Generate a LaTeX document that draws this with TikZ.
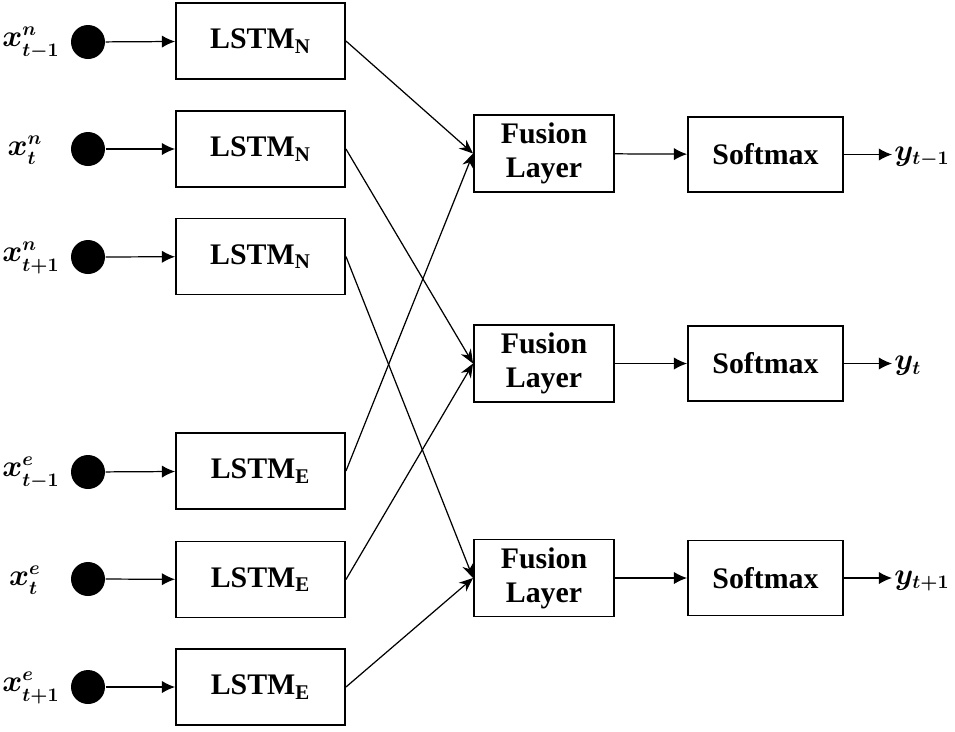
\documentclass[tikz,border=0pt]{standalone}
\usepackage{fontspec}
\setmainfont{Liberation Serif}
\usepackage{amsmath}
\usetikzlibrary{arrows.meta}

\begin{document}
\begin{tikzpicture}[
                x = 0.02cm, y = -0.02cm, % one unit per pixel of the layout
                > = {Latex[length=7.5pt,width=7pt]}, % arrow head style
                line width = 0.7pt % line style
        ]

        \tikzstyle{block}=[
            draw = black,
            line width = 1.1pt,
            fill = white,
            align = center,
            inner sep = 0pt,
            font = \bfseries\fontsize{17}{19.5}\selectfont
        ]
        \tikzstyle{lstm}=[block, minimum width = 3.38cm, minimum height = 1.52cm]
        \tikzstyle{fusion}=[block, minimum width = 2.8cm, minimum height = 1.54cm]
        \tikzstyle{soft}=[block, minimum width = 3.1cm, minimum height = 1.5cm]
        \tikzstyle{inputdot}=[circle, fill = black, minimum size = 0.68cm, inner sep = 0pt]
        \tikzstyle{varlabel}=[inner sep = 1pt, font = \boldmath\fontsize{16}{16}\selectfont]

        \useasboundingbox (0,0) rectangle (955,731);

        % input variables
        \node[varlabel] (LXN1) at (31,43) {$x^{n}_{t-1}$};
        \node[varlabel] (LXN2) at (25,150) {$x^{n}_{t}$};
        \node[varlabel] (LXN3) at (31,258) {$x^{n}_{t+1}$};
        \node[varlabel] (LXE1) at (31,473) {$x^{e}_{t-1}$};
        \node[varlabel] (LXE2) at (25,580) {$x^{e}_{t}$};
        \node[varlabel] (LXE3) at (31,688) {$x^{e}_{t+1}$};

        \node[inputdot] (XN1) at (88,42) {};
        \node[inputdot] (XN2) at (88,149) {};
        \node[inputdot] (XN3) at (88,257) {};
        \node[inputdot] (XE1) at (88,472) {};
        \node[inputdot] (XE2) at (88,579) {};
        \node[inputdot] (XE3) at (88,687) {};

        % LSTM blocks
        \node[lstm] (LN1) at (260.5,41) {LSTM\textsubscript{N}};
        \node[lstm] (LN2) at (260.5,149) {LSTM\textsubscript{N}};
        \node[lstm] (LN3) at (260.5,256.5) {LSTM\textsubscript{N}};
        \node[lstm] (LE1) at (260.5,471) {LSTM\textsubscript{E}};
        \node[lstm] (LE2) at (260.5,579.5) {LSTM\textsubscript{E}};
        \node[lstm] (LE3) at (260.5,687) {LSTM\textsubscript{E}};

        % fusion and softmax
        \node[fusion] (F1) at (544,153.5) {Fusion\\Layer};
        \node[fusion] (F2) at (544,363.5) {Fusion\\Layer};
        \node[fusion] (F3) at (544,578) {Fusion\\Layer};

        \node[soft] (S1) at (765.5,154.5) {Softmax};
        \node[soft] (S2) at (765.5,363.5) {Softmax};
        \node[soft] (S3) at (765.5,578) {Softmax};

        \node[varlabel, anchor = west] (Y1) at (892,157) {$y_{t-1}$};
        \node[varlabel, anchor = west] (Y2) at (892,366) {$y_{t}$};
        \node[varlabel, anchor = west] (Y3) at (892,581) {$y_{t+1}$};

        \draw[->] (XN1) -- (LN1);
        \draw[->] (XN2) -- (LN2);
        \draw[->] (XN3) -- (LN3);
        \draw[->] (XE1) -- (LE1);
        \draw[->] (XE2) -- (LE2);
        \draw[->] (XE3) -- (LE3);

        \draw[-{Stealth[length=8pt,width=6.5pt]}] (LN1.east) -- (F1.west);
        \draw[-{Stealth[length=8pt,width=6.5pt]}] (LN2.east) -- (F2.west);
        \draw[-{Stealth[length=8pt,width=6.5pt]}] (LN3.east) -- (F3.west);
        \draw[-{Stealth[length=8pt,width=6.5pt]}] (LE1.east) -- (F1.west);
        \draw[-{Stealth[length=8pt,width=6.5pt]}] (LE2.east) -- (F2.west);
        \draw[-{Stealth[length=8pt,width=6.5pt]}] (LE3.east) -- (F3.west);

        \draw[->] (F1) -- (S1);
        \draw[->] (F2) -- (S2);
        \draw[->] (F3) -- (S3);

        \draw[->] (S1.east) -- (Y1.west |- S1.east);
        \draw[->] (S2.east) -- (Y2.west |- S2.east);
        \draw[->] (S3.east) -- (Y3.west |- S3.east);

        \end{tikzpicture}
\end{document}
